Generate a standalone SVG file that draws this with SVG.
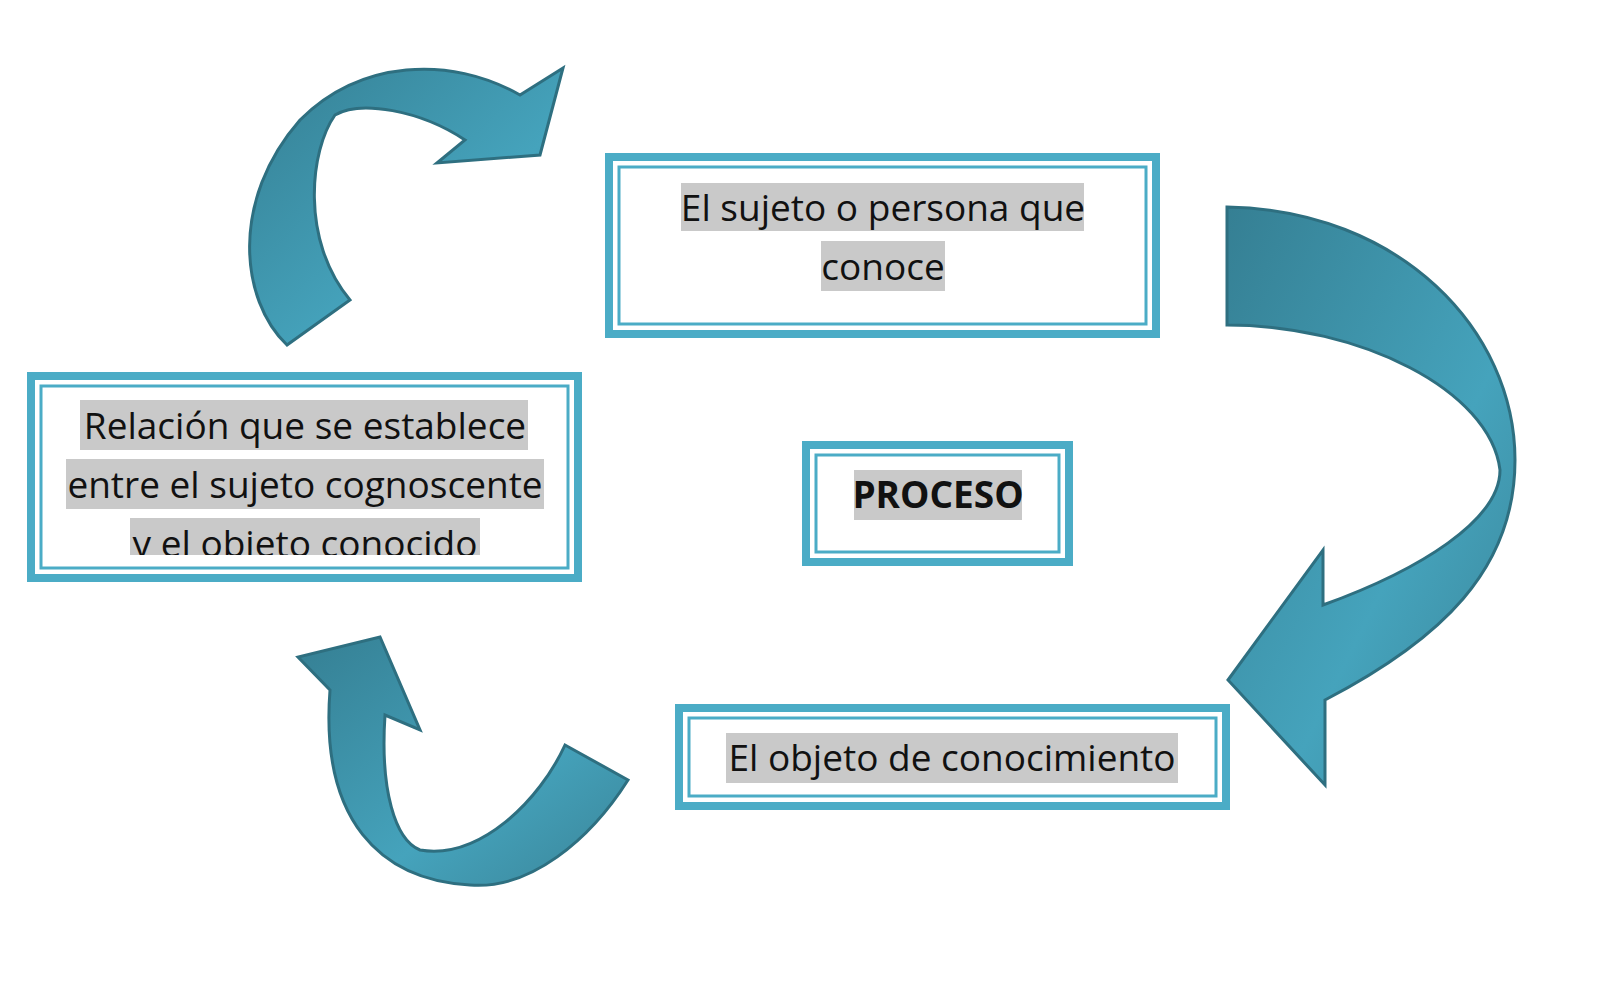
<svg xmlns="http://www.w3.org/2000/svg" width="1600" height="1000" viewBox="0 0 1600 1000">
<defs>
<style>
.outer{fill:#fff;stroke:#4BACC6;stroke-width:8}
.inner{fill:none;stroke:#4BACC6;stroke-width:3}
.t{font-family:"Open Sans","Liberation Sans",sans-serif;font-size:37px;fill:#111;text-anchor:middle}
.hl{fill:#C9C9C9}
.arr{fill:url(#g);stroke:#2E6F80;stroke-width:3}
</style>
<linearGradient id="g" x1="0" y1="0" x2="1" y2="1">
<stop offset="0" stop-color="#357F93"/><stop offset="0.6" stop-color="#45A3BC"/><stop offset="1" stop-color="#3A8599"/>
</linearGradient>
<clipPath id="cl"><rect x="40" y="385" width="530" height="170"/></clipPath>
</defs>
<g id="connectors">
<path class="arr" d="M287,345 C240,300 230,200 300,120 C360,60 450,55 520,95 L563,68 L540,155 L437,163 L465,140 C420,110 360,100 335,115 C310,150 300,240 350,300 Z"/>
<path class="arr" d="M1227,207 C1400,210 1515,330 1515,460 C1515,570 1440,640 1325,700 L1325,785 L1228,680 L1323,550 L1323,605 C1420,570 1500,520 1500,470 C1490,390 1360,325 1227,325 Z"/>
<path class="arr" d="M628,780 C590,840 530,890 470,885 C380,880 320,820 330,690 L298,657 L380,637 L420,730 L385,715 C380,790 395,840 420,850 C480,860 540,800 565,745 Z"/>
</g>
<g id="node-sujeto">
<rect class="outer" x="609" y="157" width="547" height="177"/>
<rect class="inner" x="619" y="167" width="527" height="157"/>
<rect class="hl" x="681" y="183" width="403" height="48"/>
<rect class="hl" x="821" y="241" width="124" height="50"/>
<text class="t" x="883" y="221">El sujeto o persona que</text>
<text class="t" x="883" y="280">conoce</text>
</g>
<g id="node-relacion">
<rect class="outer" x="31" y="376" width="547" height="202"/>
<rect class="inner" x="41" y="386" width="527" height="182"/>
<g clip-path="url(#cl)">
<rect class="hl" x="80" y="400" width="448" height="50"/>
<rect class="hl" x="66" y="459" width="478" height="50"/>
<rect class="hl" x="130" y="518" width="350" height="50"/>
<text class="t" x="305" y="439">Relación que se establece</text>
<text class="t" x="305" y="498">entre el sujeto cognoscente</text>
<text class="t" x="305" y="557">y el objeto conocido</text>
</g>
</g>
<g id="node-proceso">
<rect class="outer" x="806" y="445" width="263" height="117"/>
<rect class="inner" x="816" y="455" width="243" height="97"/>
<rect class="hl" x="854" y="470" width="168" height="50"/>
<text class="t" x="938" y="508" font-weight="bold">PROCESO</text>
</g>
<g id="node-objeto">
<rect class="outer" x="679" y="708" width="547" height="98"/>
<rect class="inner" x="689" y="718" width="527" height="78"/>
<rect class="hl" x="726" y="733" width="452" height="50"/>
<text class="t" x="952" y="771">El objeto de conocimiento</text>
</g>
</svg>
